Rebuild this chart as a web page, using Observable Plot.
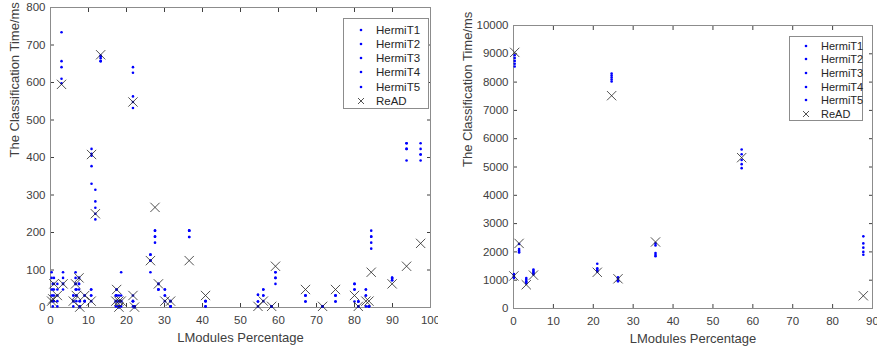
<!DOCTYPE html>
<html><head><meta charset="utf-8">
<script src="https://cdn.jsdelivr.net/npm/d3@7"></script>
<script src="https://cdn.jsdelivr.net/npm/@observablehq/plot@0.6"></script>
<style>
body{margin:0;background:#fff;font-family:"Liberation Sans",Arial,sans-serif;}
#wrap{position:relative;width:877px;height:350px;display:flex;overflow:hidden;}
.legend{position:absolute;background:#fff;border:1px solid #8c8c8c;box-sizing:border-box;color:#262626;}
.legend svg{position:absolute;overflow:visible;}
.legend span{position:absolute;white-space:nowrap;transform:translateY(-50%);}
</style></head>
<body><div id="wrap"></div>
<script>
// ---------- data: left panel ----------
const leftX    = [0.3,0.6,0.9,1.8,2.9,3.3,6.0,6.6,7.5,6.8,7.7,9.0,10.7,10.8,11.8,13.2,17.4,17.2,18.0,18.6,18.0,21.7,21.7,22.1,26.3,27.5,28.4,30.1,31.6,36.5,40.8,54.6,56.0,58.2,59.2,67.1,71.6,75.0,80.0,81.0,83.0,83.8,84.4,89.9,93.7,97.4];
const leftReAD = [17,23,63,32,595,63,17,63,79,32,1,32,17,408,250,674,48,17,17,17,1,32,548,1,125,267,63,17,17,125,32,3,17,3,110,48,3,48,32,3,17,17,94,63,110,171];
const leftH1   = [94,63,79,48,734,94,32,94,79,48,17,17,48,423,314,657,32,32,3,94,3,17,641,3,141,205,48,48,3,205,17,34,48,3,94,32,3,32,63,16,48,3,205,79,438,438];
const leftH2   = [79,48,63,63,657,79,17,79,63,32,3,32,32,410,283,670,48,17,17,32,1,32,626,1,125,189,63,32,17,188,3,16,32,3,79,16,3,16,48,3,32,3,189,73,423,423];
const leftH3   = [48,32,48,32,641,63,3,63,48,17,17,17,17,377,266,665,17,3,32,17,3,17,563,3,94,173,48,17,3,205,17,3,17,3,63,32,3,32,16,16,3,3,173,79,392,408];
const leftH4   = [32,17,32,17,610,48,17,48,79,32,1,32,32,330,235,657,32,17,3,3,1,3,532,1,125,205,63,32,17,188,3,16,32,3,94,16,3,16,48,3,32,3,157,73,438,392];
const leftH5   = [17,3,17,3,598,63,32,63,63,48,3,17,48,405,250,672,48,32,17,17,3,17,548,3,141,189,48,48,3,205,17,34,48,3,79,32,3,32,63,16,48,3,189,79,423,408];
// ---------- data: right panel ----------
const rightX    = [0.3,24.6,57.2,0.1,1.4,3.2,5.0,21.0,26.2,35.6,87.7];
const rightReAD = [9050,7520,5330,1150,2300,840,1180,1280,1050,2350,450];
const rightH1   = [8950,8300,5620,1220,2280,1080,1380,1580,1100,2300,2550];
const rightH2   = [8850,8230,5450,1180,2100,1020,1330,1420,1060,2230,2300];
const rightH3   = [8750,8160,5250,1130,2050,960,1290,1370,1000,1960,2150];
const rightH4   = [8650,8090,5100,1100,2000,920,1250,1330,980,1900,2000];
const rightH5   = [8550,8020,4960,1080,1980,880,1200,1300,960,1850,1900];
// ---------- tick labels / text ----------
const seriesNames = ["HermiT1","HermiT2","HermiT3","HermiT4","HermiT5","ReAD"];
const leftXTicks = d3.range(0, 101, 10);
const leftYTicks = d3.range(0, 801, 100);
const rightXTicks = d3.range(0, 91, 10);
const rightYTicks = d3.range(0, 10001, 1000);
const xLabel = "LModules Percentage";
const yLabel = "The Classification Time/ms";

const BLUE = "#0000ff", DARK = "#262626", GREY = "#404040";
const FONT = "'Liberation Sans', Arial, sans-serif";

function hermitPoints(xs, hs) {
  const out = [];
  hs.forEach((h, k) => xs.forEach((x, i) => out.push({x, y: h[i], series: seriesNames[k]})));
  return out;
}

function panel(o) {
  const herm = hermitPoints(o.xs, o.hs);
  const read = o.xs.map((x, i) => ({x, y: o.read[i]}));
  return Plot.plot({
    width: o.width, height: 350,
    marginLeft: o.ml, marginRight: o.mr, marginTop: o.mt, marginBottom: o.mb,
    style: {fontFamily: FONT, fontSize: "11px", background: "#fff", overflow: "visible"},
    x: {domain: o.xDomain, ticks: o.xTicks},
    y: {domain: o.yDomain, ticks: o.yTicks},
    marks: [
      Plot.axisX({ticks: o.xTicks, tickSize: -4, tickPadding: 12, tickFormat: "d", color: GREY, label: null, fontSize: 11.5}),
      Plot.axisX({ticks: o.xTicks, anchor: "top", tickSize: -4, tickFormat: () => "", color: GREY, label: null}),
      Plot.axisY({ticks: o.yTicks, tickSize: -4, tickPadding: 9, tickFormat: "d", color: GREY, label: null, fontSize: 11.5}),
      Plot.axisY({ticks: o.yTicks, anchor: "right", tickSize: -4, tickFormat: () => "", color: GREY, label: null}),
      Plot.frame({stroke: "#8c8c8c"}),
      Plot.dot(herm, {x: "x", y: "y", r: 1.3, fill: BLUE, stroke: null}),
      Plot.dot(read, {x: "x", y: "y", symbol: "times", r: 4.3, stroke: DARK, strokeWidth: 0.8}),
      Plot.text([xLabel], {text: d => d, frameAnchor: "bottom", dy: 30, lineAnchor: "middle", fontSize: 13, fill: GREY}),
      Plot.text([yLabel], {text: d => d, frameAnchor: "left", dx: -o.yLabOff, rotate: -90, lineAnchor: "middle", fontSize: 13, fill: GREY})
    ]
  });
}

const wrap = document.getElementById("wrap");
wrap.appendChild(panel({
  width: 438, ml: 50, mr: 8, mt: 7, mb: 43,
  xs: leftX, read: leftReAD, hs: [leftH1, leftH2, leftH3, leftH4, leftH5],
  xDomain: [0, 100], yDomain: [0, 800], xTicks: leftXTicks, yTicks: leftYTicks, yLabOff: 36
}));
wrap.appendChild(panel({
  width: 439, ml: 75, mr: 5, mt: 25, mb: 42,
  xs: rightX, read: rightReAD, hs: [rightH1, rightH2, rightH3, rightH4, rightH5],
  xDomain: [0, 90], yDomain: [0, 10000], xTicks: rightXTicks, yTicks: rightYTicks, yLabOff: 46
}));

function legend(o) {
  const box = document.createElement("div");
  box.className = "legend";
  Object.assign(box.style, {left: o.left + "px", top: o.top + "px", width: o.w + "px", height: o.h + "px", fontSize: o.fs + "px"});
  seriesNames.forEach((name, i) => {
    const cy = o.first + i * o.step;
    const s = document.createElementNS("http://www.w3.org/2000/svg", "svg");
    s.setAttribute("width", 10); s.setAttribute("height", 10);
    s.style.left = (o.mx - 5) + "px"; s.style.top = (cy - 5) + "px";
    if (name === "ReAD") {
      s.innerHTML = `<path d="M2,2L8,8M8,2L2,8" stroke="${DARK}" stroke-width="0.8" fill="none"/>`;
    } else {
      s.innerHTML = `<circle cx="5" cy="5" r="1.3" fill="${BLUE}"/>`;
    }
    box.appendChild(s);
    const t = document.createElement("span");
    t.textContent = name;
    t.style.left = o.tx + "px"; t.style.top = cy + "px";
    box.appendChild(t);
  });
  wrap.appendChild(box);
}
legend({left: 343, top: 18, w: 86, h: 91, fs: 11.5, first: 10.5, step: 14.3, mx: 16.5, tx: 32});
legend({left: 789, top: 36, w: 74, h: 85, fs: 11, first: 8.5, step: 13.7, mx: 15.5, tx: 31});
</script></body></html>
